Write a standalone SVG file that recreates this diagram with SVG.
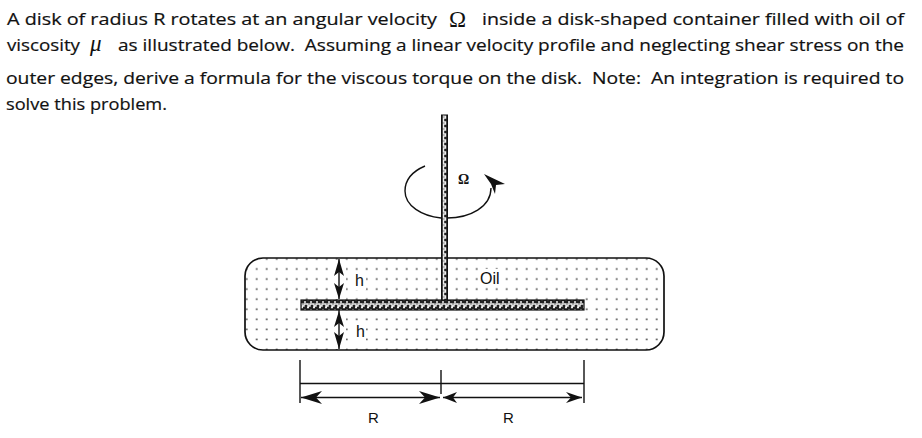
<svg xmlns="http://www.w3.org/2000/svg" width="922" height="438" viewBox="0 0 922 438">
<style>
text{fill:#111}
.t{font-family:"Open Sans","DejaVu Sans",sans-serif;font-size:17px;white-space:pre;stroke:#111;stroke-width:.2}
.s{font-family:"Liberation Serif",serif}
.l{font-family:"Liberation Sans",Arial,sans-serif;font-size:15px}
.big{font-size:16px}
.ln{fill:none;stroke:#111;stroke-width:1.4}
.ar{fill:#111;stroke:none}
.halo{fill:#fff;stroke:none}
</style>
<defs>
<pattern id="dots" patternUnits="userSpaceOnUse" x="251.7" y="264" width="10" height="10.05">
<rect x="4.25" y="4.25" width="1.5" height="1.5" fill="#222"/>
</pattern>
<pattern id="grain" patternUnits="userSpaceOnUse" x="0" y="301" width="6" height="8">
<rect width="6" height="8" fill="#222"/>
<path d="M0 3h2v2h2V3h2M1 6.5h2M4 1h2" stroke="#f0f0f0" stroke-width="1.4" fill="none"/>
</pattern>
<pattern id="grainv" patternUnits="userSpaceOnUse" x="442" y="0" width="5" height="6">
<rect width="5" height="6" fill="#222"/>
<path d="M1.5 0v2h2v2h-2v2" stroke="#f0f0f0" stroke-width="1.4" fill="none"/>
</pattern>
</defs>
<g id="problem-text">
<text class="t" x="7" y="25" textLength="430" lengthAdjust="spacingAndGlyphs">A disk of radius R rotates at an angular velocity</text>
<text class="s" x="449" y="27" font-size="23">Ω</text>
<text class="t" x="482" y="25" textLength="422" lengthAdjust="spacingAndGlyphs">inside a disk-shaped container filled with oil of</text>
<text class="t" x="7" y="51" textLength="73" lengthAdjust="spacingAndGlyphs">viscosity</text>
<text class="s" x="90" y="51" font-size="23" font-style="italic">μ</text>
<text class="t" x="118" y="51" textLength="786" lengthAdjust="spacingAndGlyphs">as illustrated below.  Assuming a linear velocity profile and neglecting shear stress on the</text>
<text class="t" x="6" y="84" textLength="898" lengthAdjust="spacingAndGlyphs">outer edges, derive a formula for the viscous torque on the disk.  Note:  An integration is required to</text>
<text class="t" x="6" y="110" textLength="161" lengthAdjust="spacingAndGlyphs">solve this problem.</text>
</g>
<g id="container">
<rect x="245" y="258" width="419" height="92" rx="18" fill="#fff"/>
<rect x="245" y="258" width="419" height="92" rx="18" fill="url(#dots)" stroke="#111" stroke-width="1.7"/>
</g>
<g id="oil-label">
<rect class="halo" x="479" y="269" width="23" height="17"/>
<text class="l big" x="480" y="284">Oil</text>
</g>
<g id="shaft">
<rect x="441.5" y="115" width="6" height="186" fill="url(#grainv)" stroke="#111" stroke-width="1"/>
</g>
<g id="disk">
<rect x="301" y="300" width="283" height="10" fill="url(#grain)" stroke="#111" stroke-width="1.2"/>
</g>
<g id="omega-label">
<text class="s" x="458" y="184" font-size="14" font-weight="bold">Ω</text>
</g>
<g id="h-labels">
<rect class="halo" x="334" y="260" width="12" height="39"/>
<rect class="halo" x="334" y="311" width="12" height="38"/>
<rect class="halo" x="354" y="272" width="12" height="18"/>
<rect class="halo" x="354" y="324" width="12" height="18"/>
<text class="l big" x="355" y="286">h</text>
<text class="l big" x="356" y="337">h</text>
</g>
<g id="connectors">
<path class="ln" d="M425 166C411 172 405 181 405 191C405 206 422 216 441 218"/>
<path class="ln" d="M447 218C470 218 491 207 491 188"/>
<path class="ar" d="M484 174L505 184L496 185L495 194L491 184z"/>
<g id="h-arrows">
<path class="ln" d="M339 259V299M339 310V349"/>
<path class="ar" d="M339 259L344 276L339 272L334 276zM339 299L334 283L339 287L344 283zM339 311L344 327L339 323L334 327zM339 349L334 332L339 336L344 332z"/>
</g>
<g id="dimensions">
<path class="ln" d="M300 360V403M584 360V403M441 370V394M300 383.5H584M301 397.5H440M443 397.5H582"/>
<path class="ar" d="M301 397.5L322 391L316 397.5L322 404zM440 397.5L419 391L425 397.5L419 404zM443 397.5L457 392L453 397.5L457 403zM582 397.5L566 392L571 397.5L566 403z"/>
</g>
</g>
<g id="dimension-labels">
<text class="l" x="368" y="423">R</text>
<text class="l" x="503" y="423">R</text>
</g>
</svg>
